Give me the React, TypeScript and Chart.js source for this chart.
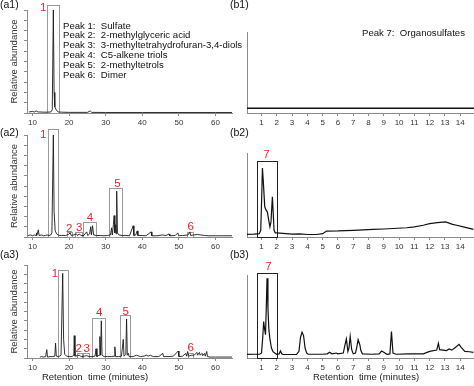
import React, { useEffect, useRef } from 'react';
import { Chart, registerables } from 'chart.js';

Chart.register(...registerables);

const W = 474;
const H = 386;
const FONT = "'Liberation Sans', Arial, sans-serif";
const RED = '#e3262e';

// ---------- tick labels ----------
const A_TICKS = [10, 20, 30, 40, 50, 60];
const B_TICKS = [1, 2, 3, 4, 5, 6, 7, 8, 9, 10, 11, 12, 13, 14];
const Y_TICKS = [0, 10, 20, 30, 40, 50, 60, 70, 80, 90, 100];

// ---------- legend ----------
const PEAK_NAMES = [
  'Sulfate',
  '2-methylglyceric acid',
  '3-methyltetrahydrofuran-3,4-diols',
  'C5-alkene triols',
  '2-methyltetrols',
  'Dimer',
];
const PEAK7_NAME = 'Organosulfates';

// ---------- traces: [retention time (min), relative abundance (%)] ----------
const A1_TRACE = [
  [9.0, 1], [10, 1.5], [10.5, 1], [11, 2], [11.5, 1], [12, 1], [13, 0.8], [14, 0.8], [15, 1],
  [15.4, 3], [15.7, 100], [15.9, 20], [16.1, 6], [16.5, 3], [17, 1], [18, 0.8], [20, 0.6],
  [25, 0.6], [25.8, 2], [26.2, 0.6], [30, 0.5], [40, 0.5], [50, 0.5], [60, 0.5], [64.5, 0.5],
];
const A2_TRACE = [
  [8.8, 1.5], [9.5, 2], [10, 1.2], [10.5, 2], [11, 1.5], [11.1, 4], [11.2, 1.5], [11.6, 7], [11.8, 1.5],
  [12.5, 2], [13, 1.2], [13.5, 1.5], [14, 2], [14.5, 1.5], [15, 2], [15.3, 4], [15.7, 100], [15.9, 25],
  [16.2, 6], [16.6, 3], [17, 2], [17.5, 1.5], [18, 1.5], [19, 1.5], [19.8, 2.5], [20.3, 4], [20.6, 1.5],
  [21.2, 2], [22, 3], [22.3, 1.5], [22.8, 3], [23.2, 1.5], [24, 1.5], [24.8, 5], [25.1, 1.5], [25.6, 3],
  [25.9, 10], [26.1, 2], [26.4, 11], [26.7, 2], [27.5, 1.5], [28.5, 1.5], [29.5, 1.2], [30.5, 1.5],
  [31.3, 2], [31.6, 9], [31.8, 2], [32.1, 12], [32.3, 21], [32.5, 4], [32.7, 12], [32.85, 3], [33.0, 45],
  [33.2, 4], [33.6, 2], [34.5, 1.5], [35.5, 1.5], [36.5, 1.2], [37.5, 11], [37.7, 1.5], [38.2, 2],
  [38.6, 6], [38.8, 1.5], [40, 1.5], [41, 1.2], [42.4, 5], [42.6, 1.2], [44, 1.2], [45.5, 2], [46.5, 1.5],
  [47.3, 3], [47.5, 1.2], [49, 1.5], [49.7, 4], [49.9, 1.2], [51, 1.5], [52.5, 2], [53, 5], [53.2, 1.5],
  [54, 2], [55, 2.5], [56, 2], [57, 1.5], [58, 1.2], [60, 1.2], [62, 1.2], [64.5, 1.2],
];
const A3_TRACE = [
  [12.0, 1], [12.5, 1.5], [13, 1], [13.6, 1.5], [13.9, 9], [14.1, 1], [14.8, 1.5], [15.5, 1.5], [16.1, 2],
  [16.3, 16], [16.5, 2], [17.2, 1.5], [17.8, 3], [18.25, 91], [18.5, 20], [18.8, 4], [19.3, 2], [20, 1.5],
  [20.8, 1.5], [21.3, 3], [21.4, 24], [21.6, 2], [22.3, 2.5], [22.8, 3], [23.3, 1.5], [24.2, 2], [24.8, 2.5],
  [25.5, 1.5], [26.3, 1.5], [27.1, 2], [27.35, 10], [27.6, 1.5], [28.2, 3], [28.4, 23], [28.6, 3], [28.8, 40],
  [29.0, 3], [29.6, 1.5], [30.5, 1.5], [31.5, 1.5], [32.3, 2], [32.5, 12], [32.7, 1.5], [33.5, 1.5],
  [34.3, 2], [34.8, 20], [35.0, 2], [35.5, 4], [35.7, 42], [35.9, 3], [36.2, 5], [36.4, 1.5], [37.5, 1.5],
  [38.4, 3], [38.8, 2.5], [39.5, 1.5], [40.5, 2], [41.2, 3], [41.6, 2], [42.2, 3], [43, 1.5], [44.5, 1.5],
  [45.6, 5], [45.8, 1.5], [47, 1.5], [48.5, 2], [49.8, 7.5], [50, 1.5], [51, 2], [51.9, 5], [52.1, 2],
  [52.4, 7], [52.6, 2], [53.5, 3], [54.2, 3], [54.9, 6], [55.1, 3], [55.6, 6], [55.8, 3], [56.3, 5],
  [56.5, 2.5], [57.0, 5], [57.2, 2], [57.6, 7], [57.8, 1.5], [58.5, 1], [60, 1], [62, 1], [64.5, 1],
];
const B1_TRACE = [
  [0.05, 6], [14.9, 6],
];
const B2_TRACE = [
  [0.05, 3.2], [0.5, 3.5], [0.85, 4], [0.95, 8], [1.0, 40], [1.06, 82], [1.12, 65], [1.21, 36], [1.3, 32],
  [1.38, 30], [1.47, 20], [1.55, 12], [1.62, 18], [1.71, 48], [1.76, 30], [1.82, 8], [1.9, 5], [1.98, 5],
  [2.4, 4.4], [3.0, 3.5], [3.5, 3.8], [4.0, 3], [4.6, 3], [5.0, 4], [5.25, 7], [6, 7.2], [7, 8], [8.3, 9],
  [9, 9.5], [10.5, 11], [11, 12], [11.58, 14], [12, 16], [12.5, 17], [13.05, 18], [13.5, 15], [13.77, 14],
  [14.2, 12], [14.86, 9],
];
const B3_TRACE = [
  [0.05, 4.4], [0.5, 4.5], [0.88, 4.5], [1.0, 6], [1.08, 25], [1.14, 44], [1.2, 35], [1.26, 28], [1.31, 60],
  [1.36, 96], [1.42, 60], [1.48, 35], [1.54, 24], [1.65, 12], [1.75, 7.6], [1.98, 4.4], [2.15, 5], [2.24, 8.4],
  [2.32, 5], [2.41, 4.2], [3.0, 4.2], [3.29, 4.4], [3.45, 8], [3.55, 25], [3.65, 31], [3.75, 27], [3.85, 12],
  [3.95, 6], [4.05, 4.5], [5.0, 4.5], [5.3, 5], [5.45, 7], [5.6, 5], [5.9, 6], [6.0, 5], [6.35, 6], [6.45, 15],
  [6.55, 23], [6.65, 8], [6.72, 12], [6.8, 26], [6.9, 10], [7.0, 5], [7.15, 6], [7.25, 15], [7.32, 22],
  [7.43, 16], [7.5, 9], [7.6, 5], [8.2, 4.5], [8.7, 5], [8.85, 8.4], [9.0, 7], [9.2, 4.5], [9.4, 5], [9.5, 32],
  [9.6, 6], [9.8, 4.5], [10.6, 5], [11.58, 5], [12.0, 8], [12.46, 9.6], [12.52, 14], [12.57, 17.7],
  [12.65, 10], [13.1, 9], [13.27, 11], [13.45, 9.5], [13.7, 13], [13.92, 16.5], [14.05, 13], [14.3, 8],
  [14.6, 7.5], [14.86, 6.8],
];

// ---------- peak boxes: [start, end, top] ----------
const A1_BOXES = [[14.05, 17.2, 104.9]];
const A2_BOXES = [
  [14.3, 17.05, 105.6], [19.3, 20.9, 4.6], [21.6, 23.4, 5], [23.9, 27.3, 14.4], [31.0, 34.5, 47.7], [52.1, 53.8, 5],
];
const A3_BOXES = [
  [17.05, 19.8, 95], [22.1, 23.4, 5], [23.9, 25.4, 5], [26.2, 29.8, 43], [33.9, 36.6, 46], [52.4, 53.9, 5.7],
];
const B1_BOXES: number[][] = [];
const B2_BOXES = [[0.7, 2.02, 91]];
const B3_BOXES = [[0.7, 2.02, 102]];

// ---------- peak number labels: [text, time, abundance] ----------
const A1_LABELS = [['1', 12.95, 101.7]];
const A2_LABELS = [
  ['1', 12.95, 100], ['2', 20.06, 8.5], ['3', 22.79, 8.8], ['4', 25.7, 18.6], ['5', 33.2, 52], ['6', 53.2, 9.5],
];
const A3_LABELS = [
  ['1', 16.15, 90], ['2', 22.6, 9.7], ['3', 24.8, 9.7], ['4', 28.25, 48.7], ['5', 35.45, 49.8], ['6', 53.2, 10.4],
];
const B1_LABELS: (string | number)[][] = [];
const B2_LABELS = [['7', 1.33, 97.6]];
const B3_LABELS = [['7', 1.45, 110]];

type Panel = {
  key: string;
  area: [number, number, number, number]; // L, T, R, B
  xMin: number;
  xMax: number;
  ticks: number[];
  trace: number[][];
  boxes: number[][];
  labels: (string | number)[][];
  kind: 'a' | 'b';
  tag: string;
  tagPos: [number, number];
  xTitle?: [number, number];
  legend?: 'a' | 'b';
};

const PANELS: Panel[] = [
  { key: 'a1', area: [27, 10, 232, 113], xMin: 8.5, xMax: 64.5, ticks: A_TICKS, trace: A1_TRACE, boxes: A1_BOXES, labels: A1_LABELS, kind: 'a', tag: '(a1)', tagPos: [0, 5], legend: 'a' },
  { key: 'a2', area: [27, 135, 232, 237], xMin: 8.5, xMax: 64.5, ticks: A_TICKS, trace: A2_TRACE, boxes: A2_BOXES, labels: A2_LABELS, kind: 'a', tag: '(a2)', tagPos: [0, 133] },
  { key: 'a3', area: [27, 265, 232, 358], xMin: 8.5, xMax: 64.5, ticks: A_TICKS, trace: A3_TRACE, boxes: A3_BOXES, labels: A3_LABELS, kind: 'a', tag: '(a3)', tagPos: [0, 255], xTitle: [95, 377] },
  { key: 'b1', area: [247, 32, 474, 113], xMin: 0.05, xMax: 14.9, ticks: B_TICKS, trace: B1_TRACE, boxes: B1_BOXES, labels: B1_LABELS, kind: 'b', tag: '(b1)', tagPos: [230, 5], legend: 'b' },
  { key: 'b2', area: [247, 153, 474, 237], xMin: 0.05, xMax: 14.9, ticks: B_TICKS, trace: B2_TRACE, boxes: B2_BOXES, labels: B2_LABELS, kind: 'b', tag: '(b2)', tagPos: [230, 133] },
  { key: 'b3', area: [247, 275, 474, 358], xMin: 0.05, xMax: 14.9, ticks: B_TICKS, trace: B3_TRACE, boxes: B3_BOXES, labels: B3_LABELS, kind: 'b', tag: '(b3)', tagPos: [230, 255], xTitle: [366, 377] },
];

function makePlugin(p: Panel) {
  return {
    id: 'annot_' + p.key,
    beforeDatasetsDraw(chart: any) {
      const ctx = chart.ctx;
      const xs = chart.scales.x;
      const ys = chart.scales.y;
      ctx.save();
      ctx.strokeStyle = p.kind === 'a' ? '#9a9a9a' : '#222';
      ctx.lineWidth = 1;
      p.boxes.forEach(([x0, x1, top]) => {
        const l = Math.round(xs.getPixelForValue(x0)) + 0.5;
        const r = Math.round(xs.getPixelForValue(x1)) + 0.5;
        const t = Math.round(ys.getPixelForValue(top)) + 0.5;
        const b = Math.round(ys.getPixelForValue(0)) + 0.5;
        ctx.strokeRect(l, t, r - l, b - t);
      });
      ctx.restore();
    },
    afterDraw(chart: any) {
      const ctx = chart.ctx;
      const xs = chart.scales.x;
      const ys = chart.scales.y;
      ctx.save();
      ctx.fillStyle = RED;
      ctx.font = `11.5px ${FONT}`;
      ctx.textAlign = 'center';
      ctx.textBaseline = 'middle';
      p.labels.forEach(([txt, x, y]) => {
        ctx.fillText(String(txt), xs.getPixelForValue(x as number), ys.getPixelForValue(y as number));
      });
      ctx.fillStyle = '#111';
      ctx.font = `10.5px ${FONT}`;
      ctx.textAlign = 'left';
      ctx.fillText(p.tag, p.tagPos[0], p.tagPos[1]);
      if (p.legend === 'a') {
        ctx.font = `9.6px ${FONT}`;
        PEAK_NAMES.forEach((name, i) => {
          ctx.fillText(`Peak ${i + 1}:  ${name}`, 63, 26 + i * 9.8);
        });
      }
      if (p.legend === 'b') {
        ctx.font = `9.6px ${FONT}`;
        ctx.fillText(`Peak 7:  ${PEAK7_NAME}`, 362, 33);
      }
      if (p.xTitle) {
        ctx.font = `9.5px ${FONT}`;
        ctx.textAlign = 'center';
        ctx.fillStyle = '#222';
        ctx.fillText('Retention  time (minutes)', p.xTitle[0], p.xTitle[1]);
      }
      ctx.restore();
    },
  };
}

function buildChart(canvas: HTMLCanvasElement, p: Panel) {
  const [L, T, R, B] = p.area;
  const Wy = p.kind === 'a' ? 27 : 10;
  const Hx = 20;
  const axisColor = '#8a8a8a';
  return new Chart(canvas, {
    type: 'line',
    data: {
      datasets: [
        {
          data: p.trace.map(([x, y]) => ({ x, y })),
          borderColor: p.kind === 'a' ? '#1a1a1a' : '#111',
          borderWidth: p.kind === 'a' ? 0.9 : p.key === 'b1' ? 1.5 : 1.2,
          pointRadius: 0,
          tension: 0,
          fill: false,
        },
      ],
    },
    options: {
      responsive: false,
      animation: false,
      devicePixelRatio: 1,
      events: [],
      layout: { padding: { left: L - Wy, top: T, right: W - R, bottom: H - B - Hx } },
      plugins: { legend: { display: false }, tooltip: { enabled: false } },
      scales: {
        x: {
          type: 'linear',
          min: p.xMin,
          max: p.xMax,
          afterFit: (s: any) => {
            s.height = Hx;
          },
          afterBuildTicks: (s: any) => {
            s.ticks = p.ticks.map((v) => ({ value: v }));
          },
          ticks: {
            font: { size: 8, family: FONT },
            color: '#333',
            padding: 2,
            maxRotation: 0,
            autoSkip: false,
            callback: (v: any) => String(v),
          },
          grid: { display: true, drawOnChartArea: false, drawTicks: true, tickLength: 3, color: axisColor },
          border: { display: true, color: axisColor, width: 1 },
        },
        y: {
          type: 'linear',
          min: 0,
          max: 100,
          afterFit: (s: any) => {
            s.width = Wy;
          },
          afterBuildTicks: (s: any) => {
            s.ticks = Y_TICKS.map((v) => ({ value: v }));
          },
          ticks: { display: false },
          grid:
            p.kind === 'a'
              ? { display: true, drawOnChartArea: false, drawTicks: true, tickLength: 3, color: axisColor }
              : { display: false },
          border: { display: true, color: axisColor, width: 1 },
          title:
            p.kind === 'a'
              ? {
                  display: true,
                  text: 'Relative abundance',
                  color: '#333',
                  font: { size: 9.5, family: FONT },
                  padding: { top: 9, bottom: 0 },
                }
              : { display: false },
        },
      },
    } as any,
    plugins: [makePlugin(p)],
  });
}

export default function App() {
  const refs = useRef<(HTMLCanvasElement | null)[]>([]);
  useEffect(() => {
    document.body.style.margin = '0';
    const charts = PANELS.map((p, i) => buildChart(refs.current[i] as HTMLCanvasElement, p));
    return () => charts.forEach((c) => c.destroy());
  }, []);
  return (
    <div style={{ position: 'relative', width: W, height: H, background: '#fff', overflow: 'hidden' }}>
      {PANELS.map((p, i) => (
        <canvas
          key={p.key}
          ref={(el) => {
            refs.current[i] = el;
          }}
          width={W}
          height={H}
          style={{ position: 'absolute', left: 0, top: 0, width: W, height: H }}
        />
      ))}
    </div>
  );
}
